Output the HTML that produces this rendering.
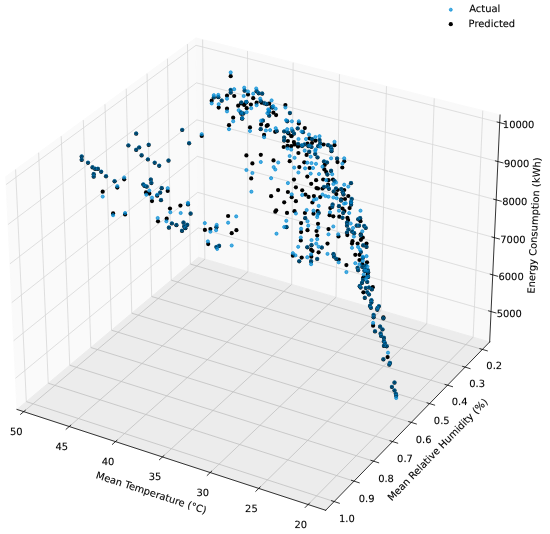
<!DOCTYPE html>
<html><head><meta charset="utf-8"><title>3D scatter</title>
<style>
html,body{margin:0;padding:0;background:#fff;}
#c{position:relative;width:550px;height:534px;overflow:hidden;background:#fff;}
#ax{position:absolute;left:0;top:0;transform-origin:0 0;transform:translate(-115.549px,-90.282px) scale(0.99131);}
#ov{position:absolute;left:0;top:0;}
text{font-family:"DejaVu Sans","Liberation Sans",sans-serif;text-rendering:geometricPrecision;stroke:#000;stroke-opacity:0.35;stroke-width:0.3px;}
</style></head><body>
<div id="c">
<div id="ax"><svg width="720" height="720" viewBox="0 0 720 720" version="1.1">
<defs>
<style type="text/css">*{stroke-linejoin: round; stroke-linecap: butt}</style>
</defs>
<g id="figure_1">
<g id="patch_1">
<path d="M 0 720 
L 720 720 
L 720 0 
L 0 0 
z
" style="fill: #ffffff"/>
</g>
<g id="patch_2">
<path d="M 91.8 640.8 
L 646.2 640.8 
L 646.2 86.4 
L 91.8 86.4 
z
" style="fill: #ffffff"/>
</g>
<g id="pane3d_1">
<g id="patch_3">
<path d="M 316.742009 350.640614 
L 133.661023 504.102727 
L 122.354653 269.318627 
L 314.197008 129.320814 
" style="fill: #fafafa; stroke: #fafafa; stroke-linejoin: miter"/>
</g>
</g>
<g id="pane3d_2">
<g id="patch_4">
<path d="M 610.521668 436.030763 
L 316.742009 350.640614 
L 314.197008 129.320814 
L 621.005628 207.087856 
" style="fill: #f9f9f9; stroke: #f9f9f9; stroke-linejoin: miter"/>
</g>
</g>
<g id="pane3d_3">
<g id="patch_5">
<path d="M 610.521668 436.030763 
L 316.742009 350.640614 
L 133.661023 504.102727 
L 445.08181 605.812756 
" style="fill: #ececec; stroke: #ececec; stroke-linejoin: miter"/>
</g>
</g>
<g id="grid3d_1">
<g id="Line3DCollection_1">
<path d="M 427.349786 600.021476 L 593.863625 431.188928" style="fill: none; stroke: #c0c0c0; stroke-width: 0.8"/>
<path d="M 593.863625 431.188928 L 603.574135 202.669481" style="fill: none; stroke: #d6d6d6; stroke-width: 0.8"/>
<path d="M 377.573838 583.764652 L 547.057778 417.584316" style="fill: none; stroke: #c0c0c0; stroke-width: 0.8"/>
<path d="M 547.057778 417.584316 L 554.617393 190.260374" style="fill: none; stroke: #d6d6d6; stroke-width: 0.8"/>
<path d="M 328.611013 567.773393 L 500.95212 404.183221" style="fill: none; stroke: #c0c0c0; stroke-width: 0.8"/>
<path d="M 500.95212 404.183221 L 506.425222 178.045063" style="fill: none; stroke: #d6d6d6; stroke-width: 0.8"/>
<path d="M 280.441548 552.041246 L 455.531058 390.981112" style="fill: none; stroke: #c0c0c0; stroke-width: 0.8"/>
<path d="M 455.531058 390.981112 L 458.979852 166.019045" style="fill: none; stroke: #d6d6d6; stroke-width: 0.8"/>
<path d="M 233.046314 536.561963 L 410.779456 377.973588" style="fill: none; stroke: #c0c0c0; stroke-width: 0.8"/>
<path d="M 410.779456 377.973588 L 412.264056 154.177952" style="fill: none; stroke: #d6d6d6; stroke-width: 0.8"/>
<path d="M 186.406796 521.329496 L 366.682621 365.156379" style="fill: none; stroke: #c0c0c0; stroke-width: 0.8"/>
<path d="M 366.682621 365.156379 L 366.261135 142.517553" style="fill: none; stroke: #d6d6d6; stroke-width: 0.8"/>
<path d="M 140.50506 506.33799 L 323.226288 352.525338" style="fill: none; stroke: #c0c0c0; stroke-width: 0.8"/>
<path d="M 323.226288 352.525338 L 320.954895 131.033742" style="fill: none; stroke: #d6d6d6; stroke-width: 0.8"/>
</g>
</g>
<g id="grid3d_2">
<g id="Line3DCollection_2">
<path d="M 305.684492 135.532861 L 308.588727 357.474857" style="fill: none; stroke: #d6d6d6; stroke-width: 0.8"/>
<path d="M 308.588727 357.474857 L 603.185029 443.559959" style="fill: none; stroke: #c0c0c0; stroke-width: 0.8"/>
<path d="M 285.490305 150.269659 L 289.257753 373.678463" style="fill: none; stroke: #d6d6d6; stroke-width: 0.8"/>
<path d="M 289.257753 373.678463 L 585.778758 461.423076" style="fill: none; stroke: #c0c0c0; stroke-width: 0.8"/>
<path d="M 264.897958 165.297016 L 269.561566 390.188197" style="fill: none; stroke: #d6d6d6; stroke-width: 0.8"/>
<path d="M 269.561566 390.188197 L 568.026964 479.640783" style="fill: none; stroke: #c0c0c0; stroke-width: 0.8"/>
<path d="M 243.895558 180.62361 L 249.48972 407.012817" style="fill: none; stroke: #d6d6d6; stroke-width: 0.8"/>
<path d="M 249.48972 407.012817 L 549.919256 498.223746" style="fill: none; stroke: #c0c0c0; stroke-width: 0.8"/>
<path d="M 222.470735 196.25847 L 229.031362 424.161418" style="fill: none; stroke: #d6d6d6; stroke-width: 0.8"/>
<path d="M 229.031362 424.161418 L 531.444822 517.18306" style="fill: none; stroke: #c0c0c0; stroke-width: 0.8"/>
<path d="M 200.610615 212.21099 L 208.175221 441.643449" style="fill: none; stroke: #d6d6d6; stroke-width: 0.8"/>
<path d="M 208.175221 441.643449 L 512.592406 536.530276" style="fill: none; stroke: #c0c0c0; stroke-width: 0.8"/>
<path d="M 178.301795 228.490951 L 186.90958 459.468731" style="fill: none; stroke: #d6d6d6; stroke-width: 0.8"/>
<path d="M 186.90958 459.468731 L 493.35029 556.277421" style="fill: none; stroke: #c0c0c0; stroke-width: 0.8"/>
<path d="M 155.530318 245.108538 L 165.22226 477.647472" style="fill: none; stroke: #d6d6d6; stroke-width: 0.8"/>
<path d="M 165.22226 477.647472 L 473.706264 576.437025" style="fill: none; stroke: #c0c0c0; stroke-width: 0.8"/>
<path d="M 132.281639 262.074365 L 143.100594 496.190292" style="fill: none; stroke: #d6d6d6; stroke-width: 0.8"/>
<path d="M 143.100594 496.190292 L 453.647602 597.022146" style="fill: none; stroke: #c0c0c0; stroke-width: 0.8"/>
</g>
</g>
<g id="grid3d_3">
<g id="Line3DCollection_3">
<path d="M 611.92548 405.375083 
L 316.400608 320.95145 
L 132.149299 472.710787 
" style="fill: none; stroke: #d6d6d6; stroke-width: 0.8"/>
<path d="M 613.620544 368.359228 
L 315.988632 285.125013 
L 130.323025 434.787034 
" style="fill: none; stroke: #d6d6d6; stroke-width: 0.8"/>
<path d="M 615.340192 330.806497 
L 315.570969 248.803946 
L 128.469246 396.29211 
" style="fill: none; stroke: #d6d6d6; stroke-width: 0.8"/>
<path d="M 617.084965 292.705126 
L 315.147499 211.977933 
L 126.587335 357.213014 
" style="fill: none; stroke: #d6d6d6; stroke-width: 0.8"/>
<path d="M 618.855416 254.043001 
L 314.718101 174.636371 
L 124.676648 317.536346 
" style="fill: none; stroke: #d6d6d6; stroke-width: 0.8"/>
<path d="M 620.652116 214.807653 
L 314.282649 136.768358 
L 122.736518 277.248294 
" style="fill: none; stroke: #d6d6d6; stroke-width: 0.8"/>
</g>
</g>
<g id="axis3d_1">
<g id="line2d_1">
<path d="M 133.661023 504.102727 
L 445.08181 605.812756 
" style="fill: none; stroke: #000000; stroke-width: 0.8; stroke-linecap: square"/>
</g>
<g id="xtick_1">
<g id="line2d_2">
<path d="M 428.80539 598.545603 
L 424.432034 602.979859 
" style="fill: none; stroke: #000000; stroke-width: 0.8; stroke-linecap: square"/>
</g>
<g id="text_1">
<text style="font-size: 10px; font-family: 'DejaVu Sans', 'Liberation Sans', sans-serif; text-anchor: middle" x="419.989427" y="624.216107" transform="rotate(-0 419.989427 624.216107)">20</text>
</g>
</g>
<g id="xtick_2">
<g id="line2d_3">
<path d="M 379.054371 582.312977 
L 374.60617 586.674474 
" style="fill: none; stroke: #000000; stroke-width: 0.8; stroke-linecap: square"/>
</g>
<g id="text_2">
<text style="font-size: 10px; font-family: 'DejaVu Sans', 'Liberation Sans', sans-serif; text-anchor: middle" x="370.182097" y="607.792276" transform="rotate(-0 370.182097 607.792276)">25</text>
</g>
</g>
<g id="xtick_3">
<g id="line2d_4">
<path d="M 330.11547 566.345327 
L 325.595445 570.635841 
" style="fill: none; stroke: #000000; stroke-width: 0.8; stroke-linecap: square"/>
</g>
<g id="text_3">
<text style="font-size: 10px; font-family: 'DejaVu Sans', 'Liberation Sans', sans-serif; text-anchor: middle" x="321.189896" y="591.637232" transform="rotate(-0 321.189896 591.637232)">30</text>
</g>
</g>
<g id="xtick_4">
<g id="line2d_5">
<path d="M 281.968963 550.636217 
L 277.380016 554.857466 
" style="fill: none; stroke: #000000; stroke-width: 0.8; stroke-linecap: square"/>
</g>
<g id="text_4">
<text style="font-size: 10px; font-family: 'DejaVu Sans', 'Liberation Sans', sans-serif; text-anchor: middle" x="272.992976" y="575.744429" transform="rotate(-0 272.992976 575.744429)">35</text>
</g>
</g>
<g id="xtick_5">
<g id="line2d_6">
<path d="M 234.595759 535.179419 
L 229.940683 539.333067 
" style="fill: none; stroke: #000000; stroke-width: 0.8; stroke-linecap: square"/>
</g>
<g id="text_5">
<text style="font-size: 10px; font-family: 'DejaVu Sans', 'Liberation Sans', sans-serif; text-anchor: middle" x="225.572128" y="560.107534" transform="rotate(-0 225.572128 560.107534)">40</text>
</g>
</g>
<g id="xtick_6">
<g id="line2d_7">
<path d="M 187.977377 519.968901 
L 183.258855 524.05656 
" style="fill: none; stroke: #000000; stroke-width: 0.8; stroke-linecap: square"/>
</g>
<g id="text_6">
<text style="font-size: 10px; font-family: 'DejaVu Sans', 'Liberation Sans', sans-serif; text-anchor: middle" x="178.908758" y="544.720415" transform="rotate(-0 178.908758 544.720415)">45</text>
</g>
</g>
<g id="xtick_7">
<g id="line2d_8">
<path d="M 142.095917 504.998824 
L 137.316534 509.022055 
" style="fill: none; stroke: #000000; stroke-width: 0.8; stroke-linecap: square"/>
</g>
<g id="text_7">
<text style="font-size: 10px; font-family: 'DejaVu Sans', 'Liberation Sans', sans-serif; text-anchor: middle" x="132.98486" y="529.577136" transform="rotate(-0 132.98486 529.577136)">50</text>
</g>
</g>
<g id="text_8">
<text style="font-size: 10px; font-family: 'DejaVu Sans', 'Liberation Sans', sans-serif; text-anchor: middle" x="268.188338" y="591.360438" transform="rotate(-341.912962 268.188338 591.360438)">Mean Temperature (°C)</text>
</g>
</g>
<g id="axis3d_2">
<g id="line2d_9">
<path d="M 610.521668 436.030763 
L 445.08181 605.812756 
" style="fill: none; stroke: #000000; stroke-width: 0.8; stroke-linecap: square"/>
</g>
<g id="xtick_8">
<g id="line2d_10">
<path d="M 600.712073 442.837328 
L 608.136846 445.006949 
" style="fill: none; stroke: #000000; stroke-width: 0.8; stroke-linecap: square"/>
</g>
<g id="text_9">
<text style="font-size: 10px; font-family: 'DejaVu Sans', 'Liberation Sans', sans-serif; text-anchor: middle" x="615.115619" y="463.511131" transform="rotate(-0 615.115619 463.511131)">0.2</text>
</g>
</g>
<g id="xtick_9">
<g id="line2d_11">
<path d="M 583.288497 460.686173 
L 590.765286 462.898657 
" style="fill: none; stroke: #000000; stroke-width: 0.8; stroke-linecap: square"/>
</g>
<g id="text_10">
<text style="font-size: 10px; font-family: 'DejaVu Sans', 'Liberation Sans', sans-serif; text-anchor: middle" x="597.821965" y="481.500465" transform="rotate(-0 597.821965 481.500465)">0.3</text>
</g>
</g>
<g id="xtick_10">
<g id="line2d_12">
<path d="M 565.519194 478.889183 
L 573.048612 481.145813 
" style="fill: none; stroke: #000000; stroke-width: 0.8; stroke-linecap: square"/>
</g>
<g id="text_11">
<text style="font-size: 10px; font-family: 'DejaVu Sans', 'Liberation Sans', sans-serif; text-anchor: middle" x="580.184931" y="499.846992" transform="rotate(-0 580.184931 499.846992)">0.4</text>
</g>
</g>
<g id="xtick_11">
<g id="line2d_13">
<path d="M 547.393772 497.457005 
L 554.976437 499.759115 
" style="fill: none; stroke: #000000; stroke-width: 0.8; stroke-linecap: square"/>
</g>
<g id="text_12">
<text style="font-size: 10px; font-family: 'DejaVu Sans', 'Liberation Sans', sans-serif; text-anchor: middle" x="562.194188" y="518.561459" transform="rotate(-0 562.194188 518.561459)">0.5</text>
</g>
</g>
<g id="xtick_12">
<g id="line2d_14">
<path d="M 528.901417 516.400715 
L 536.537952 518.749695 
" style="fill: none; stroke: #000000; stroke-width: 0.8; stroke-linecap: square"/>
</g>
<g id="text_13">
<text style="font-size: 10px; font-family: 'DejaVu Sans', 'Liberation Sans', sans-serif; text-anchor: middle" x="543.838986" y="537.655044" transform="rotate(-0 543.838986 537.655044)">0.6</text>
</g>
</g>
<g id="xtick_13">
<g id="line2d_15">
<path d="M 510.030872 535.731846 
L 517.721906 538.129141 
" style="fill: none; stroke: #000000; stroke-width: 0.8; stroke-linecap: square"/>
</g>
<g id="text_14">
<text style="font-size: 10px; font-family: 'DejaVu Sans', 'Liberation Sans', sans-serif; text-anchor: middle" x="525.108139" y="557.139387" transform="rotate(-0 525.108139 557.139387)">0.7</text>
</g>
</g>
<g id="xtick_14">
<g id="line2d_16">
<path d="M 490.770417 555.462404 
L 498.516581 557.909521 
" style="fill: none; stroke: #000000; stroke-width: 0.8; stroke-linecap: square"/>
</g>
<g id="text_15">
<text style="font-size: 10px; font-family: 'DejaVu Sans', 'Liberation Sans', sans-serif; text-anchor: middle" x="505.989994" y="577.026607" transform="rotate(-0 505.989994 577.026607)">0.8</text>
</g>
</g>
<g id="xtick_15">
<g id="line2d_17">
<path d="M 471.107839 575.6049 
L 478.909773 578.103407 
" style="fill: none; stroke: #000000; stroke-width: 0.8; stroke-linecap: square"/>
</g>
<g id="text_16">
<text style="font-size: 10px; font-family: 'DejaVu Sans', 'Liberation Sans', sans-serif; text-anchor: middle" x="486.472414" y="597.329331" transform="rotate(-0 486.472414 597.329331)">0.9</text>
</g>
</g>
<g id="xtick_16">
<g id="line2d_18">
<path d="M 451.030414 596.172369 
L 458.888757 598.723903 
" style="fill: none; stroke: #000000; stroke-width: 0.8; stroke-linecap: square"/>
</g>
<g id="text_17">
<text style="font-size: 10px; font-family: 'DejaVu Sans', 'Liberation Sans', sans-serif; text-anchor: middle" x="466.542749" y="618.060716" transform="rotate(-0 466.542749 618.060716)">1.0</text>
</g>
</g>
<g id="text_18">
<text style="font-size: 10px; font-family: 'DejaVu Sans', 'Liberation Sans', sans-serif; text-anchor: middle" x="560.435364" y="547.038643" transform="rotate(-45.742112 560.435364 547.038643)">Mean Relative Humidity (%)</text>
</g>
</g>
<g id="axis3d_3">
<g id="line2d_19">
<path d="M 610.521668 436.030763 
L 621.005628 207.087856 
" style="fill: none; stroke: #000000; stroke-width: 0.8; stroke-linecap: square"/>
</g>
<g id="xtick_17">
<g id="line2d_20">
<path d="M 609.444517 404.666337 
L 616.893344 406.79427 
" style="fill: none; stroke: #000000; stroke-width: 0.8; stroke-linecap: square"/>
</g>
<g id="text_19">
<text style="font-size: 10px; font-family: 'DejaVu Sans', 'Liberation Sans', sans-serif; text-anchor: middle" x="630.310055" y="410.393279" transform="rotate(-0 630.310055 410.393279)">5000</text>
</g>
</g>
<g id="xtick_18">
<g id="line2d_21">
<path d="M 611.121045 367.660231 
L 618.625565 369.758906 
" style="fill: none; stroke: #000000; stroke-width: 0.8; stroke-linecap: square"/>
</g>
<g id="text_20">
<text style="font-size: 10px; font-family: 'DejaVu Sans', 'Liberation Sans', sans-serif; text-anchor: middle" x="632.134814" y="373.412934" transform="rotate(-0 632.134814 373.412934)">6000</text>
</g>
</g>
<g id="xtick_19">
<g id="line2d_22">
<path d="M 612.82188 330.117607 
L 620.382931 332.185949 
" style="fill: none; stroke: #000000; stroke-width: 0.8; stroke-linecap: square"/>
</g>
<g id="text_21">
<text style="font-size: 10px; font-family: 'DejaVu Sans', 'Liberation Sans', sans-serif; text-anchor: middle" x="633.986" y="335.897017" transform="rotate(-0 633.986 335.897017)">7000</text>
</g>
</g>
<g id="xtick_20">
<g id="line2d_23">
<path d="M 614.547553 292.026713 
L 622.165992 294.063609 
" style="fill: none; stroke: #000000; stroke-width: 0.8; stroke-linecap: square"/>
</g>
<g id="text_22">
<text style="font-size: 10px; font-family: 'DejaVu Sans', 'Liberation Sans', sans-serif; text-anchor: middle" x="635.864192" y="297.833809" transform="rotate(-0 635.864192 297.833809)">8000</text>
</g>
</g>
<g id="xtick_21">
<g id="line2d_24">
<path d="M 616.298614 253.375451 
L 623.975317 255.379747 
" style="fill: none; stroke: #000000; stroke-width: 0.8; stroke-linecap: square"/>
</g>
<g id="text_23">
<text style="font-size: 10px; font-family: 'DejaVu Sans', 'Liberation Sans', sans-serif; text-anchor: middle" x="637.769984" y="259.211247" transform="rotate(-0 637.769984 259.211247)">9000</text>
</g>
</g>
<g id="xtick_22">
<g id="line2d_25">
<path d="M 618.075626 214.151363 
L 625.81149 216.121864 
" style="fill: none; stroke: #000000; stroke-width: 0.8; stroke-linecap: square"/>
</g>
<g id="text_24">
<text style="font-size: 10px; font-family: 'DejaVu Sans', 'Liberation Sans', sans-serif; text-anchor: middle" x="639.703991" y="220.016908" transform="rotate(-0 639.703991 220.016908)">10000</text>
</g>
</g>
<g id="text_25">
<text style="font-size: 10px; font-family: 'DejaVu Sans', 'Liberation Sans', sans-serif; text-anchor: middle" x="658.920911" y="318.765321" transform="rotate(-87.378092 658.920911 318.765321)">Energy Consumption (kWh)</text>
</g>
</g>
<g id="axes_1"/>
</g>
</svg>
</div>
<svg id="ov" width="550" height="534" viewBox="0 0 550 534">
<g fill="#000">
<circle cx="81.7" cy="156.5" r="2.1"/>
<circle cx="81.7" cy="159.9" r="2.1"/>
<circle cx="88.0" cy="162.8" r="2.1"/>
<circle cx="92.5" cy="167.4" r="2.1"/>
<circle cx="95.2" cy="168.9" r="2.1"/>
<circle cx="97.9" cy="168.9" r="2.1"/>
<circle cx="101.2" cy="171.8" r="2.1"/>
<circle cx="93.7" cy="174.2" r="2.1"/>
<circle cx="93.7" cy="176.7" r="2.1"/>
<circle cx="106.0" cy="176.3" r="2.1"/>
<circle cx="114.6" cy="181.3" r="2.1"/>
<circle cx="124.2" cy="179.3" r="2.1"/>
<circle cx="117.3" cy="187.6" r="2.1"/>
<circle cx="102.7" cy="191.7" r="2.1"/>
<circle cx="113.1" cy="213.4" r="2.1"/>
<circle cx="125.1" cy="214.5" r="2.1"/>
<circle cx="128.4" cy="145.5" r="2.1"/>
<circle cx="136.2" cy="149.9" r="2.1"/>
<circle cx="139.2" cy="147.5" r="2.1"/>
<circle cx="141.6" cy="155.4" r="2.1"/>
<circle cx="147.9" cy="159.5" r="2.1"/>
<circle cx="148.7" cy="144.9" r="2.1"/>
<circle cx="154.7" cy="162.8" r="2.1"/>
<circle cx="159.2" cy="165.8" r="2.1"/>
<circle cx="168.5" cy="160.7" r="2.1"/>
<circle cx="189.1" cy="143.3" r="2.1"/>
<circle cx="150.8" cy="179.7" r="2.1"/>
<circle cx="151.4" cy="183.1" r="2.1"/>
<circle cx="143.3" cy="184.5" r="2.1"/>
<circle cx="144.5" cy="186.0" r="2.1"/>
<circle cx="146.7" cy="186.7" r="2.1"/>
<circle cx="161.7" cy="188.2" r="2.1"/>
<circle cx="167.7" cy="190.9" r="2.1"/>
<circle cx="146.0" cy="192.4" r="2.1"/>
<circle cx="149.3" cy="193.6" r="2.1"/>
<circle cx="157.2" cy="195.7" r="2.1"/>
<circle cx="160.2" cy="192.7" r="2.1"/>
<circle cx="152.0" cy="201.1" r="2.1"/>
<circle cx="161.0" cy="200.2" r="2.1"/>
<circle cx="170.0" cy="208.6" r="2.1"/>
<circle cx="180.4" cy="205.6" r="2.1"/>
<circle cx="188.0" cy="204.4" r="2.1"/>
<circle cx="190.6" cy="213.7" r="2.1"/>
<circle cx="158.0" cy="221.3" r="2.1"/>
<circle cx="166.7" cy="218.7" r="2.1"/>
<circle cx="171.9" cy="223.5" r="2.1"/>
<circle cx="176.4" cy="225.2" r="2.1"/>
<circle cx="168.9" cy="227.7" r="2.1"/>
<circle cx="183.5" cy="222.7" r="2.1"/>
<circle cx="187.2" cy="224.9" r="2.1"/>
<circle cx="184.2" cy="226.4" r="2.1"/>
<circle cx="185.4" cy="228.2" r="2.1"/>
<circle cx="182.0" cy="230.9" r="2.1"/>
<circle cx="204.9" cy="229.9" r="2.1"/>
<circle cx="210.4" cy="229.1" r="2.1"/>
<circle cx="216.4" cy="227.2" r="2.1"/>
<circle cx="208.2" cy="244.1" r="2.1"/>
<circle cx="216.4" cy="247.1" r="2.1"/>
<circle cx="219.1" cy="245.9" r="2.1"/>
<circle cx="228.1" cy="216.0" r="2.1"/>
<circle cx="231.7" cy="233.2" r="2.1"/>
<circle cx="236.4" cy="230.2" r="2.1"/>
<circle cx="136.2" cy="133.7" r="2.1"/>
<circle cx="182.2" cy="130.0" r="2.1"/>
<circle cx="201.7" cy="136.0" r="2.1"/>
<circle cx="233.2" cy="117.7" r="2.1"/>
<circle cx="229.0" cy="125.2" r="2.1"/>
<circle cx="241.4" cy="102.7" r="2.1"/>
<circle cx="241.4" cy="113.8" r="2.1"/>
<circle cx="242.2" cy="118.7" r="2.1"/>
<circle cx="244.4" cy="104.5" r="2.1"/>
<circle cx="246.2" cy="102.2" r="2.1"/>
<circle cx="250.0" cy="127.4" r="2.1"/>
<circle cx="246.4" cy="155.4" r="2.1"/>
<circle cx="252.4" cy="163.4" r="2.1"/>
<circle cx="251.2" cy="178.4" r="2.1"/>
<circle cx="230.7" cy="76.2" r="2.1"/>
<circle cx="213.8" cy="97.5" r="2.1"/>
<circle cx="211.7" cy="100.7" r="2.1"/>
<circle cx="218.3" cy="97.2" r="2.1"/>
<circle cx="221.7" cy="100.7" r="2.1"/>
<circle cx="218.7" cy="107.6" r="2.1"/>
<circle cx="227.0" cy="95.7" r="2.1"/>
<circle cx="230.7" cy="90.0" r="2.1"/>
<circle cx="230.7" cy="92.7" r="2.1"/>
<circle cx="234.2" cy="96.0" r="2.1"/>
<circle cx="227.0" cy="108.7" r="2.1"/>
<circle cx="244.6" cy="90.7" r="2.1"/>
<circle cx="248.0" cy="94.5" r="2.1"/>
<circle cx="256.6" cy="91.2" r="2.1"/>
<circle cx="258.7" cy="93.3" r="2.1"/>
<circle cx="262.2" cy="93.7" r="2.1"/>
<circle cx="253.2" cy="98.2" r="2.1"/>
<circle cx="246.4" cy="102.2" r="2.1"/>
<circle cx="241.2" cy="103.4" r="2.1"/>
<circle cx="244.2" cy="104.9" r="2.1"/>
<circle cx="238.2" cy="105.7" r="2.1"/>
<circle cx="250.9" cy="104.6" r="2.1"/>
<circle cx="246.7" cy="108.2" r="2.1"/>
<circle cx="240.7" cy="112.4" r="2.1"/>
<circle cx="243.4" cy="113.6" r="2.1"/>
<circle cx="242.2" cy="118.4" r="2.1"/>
<circle cx="256.6" cy="102.7" r="2.1"/>
<circle cx="260.7" cy="101.2" r="2.1"/>
<circle cx="261.7" cy="102.7" r="2.1"/>
<circle cx="264.4" cy="103.4" r="2.1"/>
<circle cx="266.7" cy="104.2" r="2.1"/>
<circle cx="269.2" cy="103.7" r="2.1"/>
<circle cx="268.9" cy="111.7" r="2.1"/>
<circle cx="269.2" cy="115.7" r="2.1"/>
<circle cx="272.4" cy="107.6" r="2.1"/>
<circle cx="273.4" cy="112.7" r="2.1"/>
<circle cx="276.1" cy="115.1" r="2.1"/>
<circle cx="261.1" cy="124.4" r="2.1"/>
<circle cx="262.9" cy="120.7" r="2.1"/>
<circle cx="260.7" cy="129.2" r="2.1"/>
<circle cx="266.7" cy="125.9" r="2.1"/>
<circle cx="267.7" cy="125.2" r="2.1"/>
<circle cx="264.1" cy="134.9" r="2.1"/>
<circle cx="276.7" cy="131.2" r="2.1"/>
<circle cx="285.4" cy="105.1" r="2.1"/>
<circle cx="289.9" cy="113.1" r="2.1"/>
<circle cx="287.2" cy="121.3" r="2.1"/>
<circle cx="298.8" cy="123.4" r="2.1"/>
<circle cx="275.2" cy="131.8" r="2.1"/>
<circle cx="284.2" cy="131.5" r="2.1"/>
<circle cx="288.4" cy="133.3" r="2.1"/>
<circle cx="292.5" cy="131.1" r="2.1"/>
<circle cx="294.0" cy="133.7" r="2.1"/>
<circle cx="291.7" cy="136.0" r="2.1"/>
<circle cx="297.7" cy="128.5" r="2.1"/>
<circle cx="303.0" cy="132.2" r="2.1"/>
<circle cx="304.8" cy="128.1" r="2.1"/>
<circle cx="284.2" cy="137.5" r="2.1"/>
<circle cx="309.4" cy="138.3" r="2.1"/>
<circle cx="312.0" cy="139.2" r="2.1"/>
<circle cx="315.4" cy="140.7" r="2.1"/>
<circle cx="319.5" cy="140.0" r="2.1"/>
<circle cx="320.2" cy="143.3" r="2.1"/>
<circle cx="323.6" cy="144.5" r="2.1"/>
<circle cx="328.1" cy="145.2" r="2.1"/>
<circle cx="330.7" cy="146.7" r="2.1"/>
<circle cx="334.5" cy="145.2" r="2.1"/>
<circle cx="304.5" cy="144.5" r="2.1"/>
<circle cx="302.2" cy="146.0" r="2.1"/>
<circle cx="309.7" cy="146.0" r="2.1"/>
<circle cx="307.5" cy="143.7" r="2.1"/>
<circle cx="312.0" cy="143.0" r="2.1"/>
<circle cx="331.5" cy="149.0" r="2.1"/>
<circle cx="331.5" cy="151.2" r="2.1"/>
<circle cx="337.1" cy="158.7" r="2.1"/>
<circle cx="337.5" cy="162.1" r="2.1"/>
<circle cx="344.2" cy="161.3" r="2.1"/>
<circle cx="291.2" cy="136.1" r="2.1"/>
<circle cx="284.1" cy="140.6" r="2.1"/>
<circle cx="287.9" cy="141.0" r="2.1"/>
<circle cx="293.9" cy="142.1" r="2.1"/>
<circle cx="283.7" cy="147.0" r="2.1"/>
<circle cx="287.5" cy="145.9" r="2.1"/>
<circle cx="291.2" cy="146.2" r="2.1"/>
<circle cx="294.6" cy="144.4" r="2.1"/>
<circle cx="298.0" cy="144.0" r="2.1"/>
<circle cx="298.0" cy="146.6" r="2.1"/>
<circle cx="301.7" cy="145.5" r="2.1"/>
<circle cx="308.5" cy="146.2" r="2.1"/>
<circle cx="311.5" cy="147.0" r="2.1"/>
<circle cx="318.2" cy="146.2" r="2.1"/>
<circle cx="298.4" cy="153.0" r="2.1"/>
<circle cx="309.2" cy="151.9" r="2.1"/>
<circle cx="306.6" cy="154.9" r="2.1"/>
<circle cx="315.2" cy="154.1" r="2.1"/>
<circle cx="317.5" cy="157.5" r="2.1"/>
<circle cx="289.7" cy="161.2" r="2.1"/>
<circle cx="304.3" cy="162.3" r="2.1"/>
<circle cx="299.3" cy="167.1" r="2.1"/>
<circle cx="309.6" cy="168.0" r="2.1"/>
<circle cx="324.0" cy="161.5" r="2.1"/>
<circle cx="327.0" cy="162.6" r="2.1"/>
<circle cx="324.7" cy="164.9" r="2.1"/>
<circle cx="342.3" cy="167.5" r="2.1"/>
<circle cx="324.4" cy="169.4" r="2.1"/>
<circle cx="326.2" cy="172.0" r="2.1"/>
<circle cx="331.1" cy="170.9" r="2.1"/>
<circle cx="327.4" cy="174.6" r="2.1"/>
<circle cx="316.1" cy="180.2" r="2.1"/>
<circle cx="323.2" cy="179.5" r="2.1"/>
<circle cx="328.5" cy="180.2" r="2.1"/>
<circle cx="333.0" cy="179.5" r="2.1"/>
<circle cx="334.5" cy="181.0" r="2.1"/>
<circle cx="328.1" cy="184.7" r="2.1"/>
<circle cx="324.0" cy="187.0" r="2.1"/>
<circle cx="327.4" cy="186.6" r="2.1"/>
<circle cx="328.9" cy="188.8" r="2.1"/>
<circle cx="316.5" cy="188.1" r="2.1"/>
<circle cx="322.5" cy="188.5" r="2.1"/>
<circle cx="351.0" cy="183.2" r="2.1"/>
<circle cx="336.0" cy="188.5" r="2.1"/>
<circle cx="337.5" cy="190.0" r="2.1"/>
<circle cx="341.2" cy="189.2" r="2.1"/>
<circle cx="344.2" cy="190.0" r="2.1"/>
<circle cx="333.7" cy="191.5" r="2.1"/>
<circle cx="336.3" cy="194.1" r="2.1"/>
<circle cx="342.7" cy="192.2" r="2.1"/>
<circle cx="343.5" cy="194.5" r="2.1"/>
<circle cx="348.3" cy="196.0" r="2.1"/>
<circle cx="320.2" cy="197.1" r="2.1"/>
<circle cx="341.2" cy="199.3" r="2.1"/>
<circle cx="345.0" cy="199.0" r="2.1"/>
<circle cx="351.7" cy="199.0" r="2.1"/>
<circle cx="308.6" cy="196.9" r="2.1"/>
<circle cx="313.9" cy="196.1" r="2.1"/>
<circle cx="312.4" cy="202.5" r="2.1"/>
<circle cx="332.6" cy="204.7" r="2.1"/>
<circle cx="332.2" cy="207.0" r="2.1"/>
<circle cx="330.3" cy="208.1" r="2.1"/>
<circle cx="339.0" cy="206.2" r="2.1"/>
<circle cx="304.9" cy="213.0" r="2.1"/>
<circle cx="313.5" cy="213.7" r="2.1"/>
<circle cx="317.6" cy="211.1" r="2.1"/>
<circle cx="318.7" cy="213.0" r="2.1"/>
<circle cx="329.6" cy="215.2" r="2.1"/>
<circle cx="333.3" cy="216.3" r="2.1"/>
<circle cx="339.3" cy="216.7" r="2.1"/>
<circle cx="305.2" cy="218.2" r="2.1"/>
<circle cx="301.1" cy="223.1" r="2.1"/>
<circle cx="318.0" cy="223.8" r="2.1"/>
<circle cx="328.5" cy="229.1" r="2.1"/>
<circle cx="301.1" cy="232.1" r="2.1"/>
<circle cx="307.5" cy="230.2" r="2.1"/>
<circle cx="316.5" cy="231.0" r="2.1"/>
<circle cx="341.0" cy="200.6" r="2.1"/>
<circle cx="351.1" cy="202.5" r="2.1"/>
<circle cx="351.1" cy="204.7" r="2.1"/>
<circle cx="349.6" cy="208.1" r="2.1"/>
<circle cx="342.5" cy="208.5" r="2.1"/>
<circle cx="344.4" cy="211.1" r="2.1"/>
<circle cx="343.2" cy="213.0" r="2.1"/>
<circle cx="342.5" cy="217.8" r="2.1"/>
<circle cx="347.4" cy="217.8" r="2.1"/>
<circle cx="348.1" cy="220.1" r="2.1"/>
<circle cx="358.2" cy="219.3" r="2.1"/>
<circle cx="360.1" cy="218.2" r="2.1"/>
<circle cx="360.5" cy="221.2" r="2.1"/>
<circle cx="347.0" cy="222.7" r="2.1"/>
<circle cx="347.0" cy="225.7" r="2.1"/>
<circle cx="356.7" cy="225.7" r="2.1"/>
<circle cx="359.0" cy="225.7" r="2.1"/>
<circle cx="364.2" cy="226.1" r="2.1"/>
<circle cx="365.7" cy="228.0" r="2.1"/>
<circle cx="348.5" cy="229.5" r="2.1"/>
<circle cx="347.0" cy="232.5" r="2.1"/>
<circle cx="352.2" cy="231.7" r="2.1"/>
<circle cx="354.1" cy="233.2" r="2.1"/>
<circle cx="360.8" cy="234.3" r="2.1"/>
<circle cx="351.0" cy="202.0" r="2.1"/>
<circle cx="294.0" cy="179.6" r="2.1"/>
<circle cx="295.9" cy="187.3" r="2.1"/>
<circle cx="278.1" cy="190.1" r="2.1"/>
<circle cx="287.9" cy="192.0" r="2.1"/>
<circle cx="291.7" cy="197.2" r="2.1"/>
<circle cx="271.1" cy="196.2" r="2.1"/>
<circle cx="284.2" cy="202.3" r="2.1"/>
<circle cx="295.9" cy="201.2" r="2.1"/>
<circle cx="276.2" cy="210.3" r="2.1"/>
<circle cx="275.3" cy="211.7" r="2.1"/>
<circle cx="287.0" cy="212.9" r="2.1"/>
<circle cx="294.5" cy="211.2" r="2.1"/>
<circle cx="286.5" cy="227.2" r="2.1"/>
<circle cx="292.9" cy="255.7" r="2.1"/>
<circle cx="299.2" cy="261.3" r="2.1"/>
<circle cx="338.5" cy="236.5" r="2.1"/>
<circle cx="317.2" cy="235.6" r="2.1"/>
<circle cx="300.8" cy="240.5" r="2.1"/>
<circle cx="327.5" cy="243.6" r="2.1"/>
<circle cx="311.5" cy="245.2" r="2.1"/>
<circle cx="307.3" cy="247.3" r="2.1"/>
<circle cx="321.8" cy="247.6" r="2.1"/>
<circle cx="311.1" cy="249.7" r="2.1"/>
<circle cx="312.5" cy="251.1" r="2.1"/>
<circle cx="318.6" cy="252.3" r="2.1"/>
<circle cx="333.5" cy="254.2" r="2.1"/>
<circle cx="334.0" cy="256.7" r="2.1"/>
<circle cx="336.3" cy="259.0" r="2.1"/>
<circle cx="338.7" cy="259.5" r="2.1"/>
<circle cx="311.3" cy="256.7" r="2.1"/>
<circle cx="301.7" cy="257.6" r="2.1"/>
<circle cx="317.2" cy="259.0" r="2.1"/>
<circle cx="311.1" cy="261.4" r="2.1"/>
<circle cx="347.3" cy="235.1" r="2.1"/>
<circle cx="360.9" cy="235.6" r="2.1"/>
<circle cx="362.8" cy="237.5" r="2.1"/>
<circle cx="360.9" cy="239.8" r="2.1"/>
<circle cx="352.5" cy="241.2" r="2.1"/>
<circle cx="352.0" cy="243.6" r="2.1"/>
<circle cx="357.6" cy="243.6" r="2.1"/>
<circle cx="366.5" cy="243.6" r="2.1"/>
<circle cx="363.2" cy="245.4" r="2.1"/>
<circle cx="366.5" cy="246.9" r="2.1"/>
<circle cx="360.9" cy="252.0" r="2.1"/>
<circle cx="355.3" cy="254.8" r="2.1"/>
<circle cx="359.5" cy="254.8" r="2.1"/>
<circle cx="362.8" cy="258.1" r="2.1"/>
<circle cx="359.5" cy="260.0" r="2.1"/>
<circle cx="362.3" cy="264.2" r="2.1"/>
<circle cx="367.0" cy="262.3" r="2.1"/>
<circle cx="365.6" cy="265.6" r="2.1"/>
<circle cx="362.3" cy="267.0" r="2.1"/>
<circle cx="357.6" cy="267.9" r="2.1"/>
<circle cx="358.1" cy="270.3" r="2.1"/>
<circle cx="365.1" cy="269.3" r="2.1"/>
<circle cx="365.6" cy="271.2" r="2.1"/>
<circle cx="367.9" cy="270.3" r="2.1"/>
<circle cx="367.9" cy="272.6" r="2.1"/>
<circle cx="363.2" cy="277.8" r="2.1"/>
<circle cx="367.9" cy="276.8" r="2.1"/>
<circle cx="346.4" cy="265.1" r="2.1"/>
<circle cx="364.4" cy="270.8" r="2.1"/>
<circle cx="368.1" cy="272.2" r="2.1"/>
<circle cx="367.6" cy="275.0" r="2.1"/>
<circle cx="363.9" cy="277.3" r="2.1"/>
<circle cx="368.1" cy="276.9" r="2.1"/>
<circle cx="363.0" cy="280.1" r="2.1"/>
<circle cx="367.2" cy="282.0" r="2.1"/>
<circle cx="362.0" cy="282.9" r="2.1"/>
<circle cx="359.7" cy="286.2" r="2.1"/>
<circle cx="360.6" cy="287.6" r="2.1"/>
<circle cx="365.8" cy="288.1" r="2.1"/>
<circle cx="369.0" cy="287.6" r="2.1"/>
<circle cx="372.8" cy="287.2" r="2.1"/>
<circle cx="371.9" cy="289.5" r="2.1"/>
<circle cx="363.4" cy="292.3" r="2.1"/>
<circle cx="367.2" cy="292.3" r="2.1"/>
<circle cx="369.0" cy="294.6" r="2.1"/>
<circle cx="364.8" cy="297.9" r="2.1"/>
<circle cx="371.4" cy="300.3" r="2.1"/>
<circle cx="371.4" cy="302.6" r="2.1"/>
<circle cx="370.0" cy="305.9" r="2.1"/>
<circle cx="370.9" cy="307.8" r="2.1"/>
<circle cx="378.9" cy="306.3" r="2.1"/>
<circle cx="377.5" cy="308.2" r="2.1"/>
<circle cx="377.3" cy="309.8" r="2.1"/>
<circle cx="373.6" cy="315.0" r="2.1"/>
<circle cx="373.6" cy="317.3" r="2.1"/>
<circle cx="383.4" cy="317.3" r="2.1"/>
<circle cx="383.4" cy="318.5" r="2.1"/>
<circle cx="373.1" cy="325.7" r="2.1"/>
<circle cx="380.1" cy="326.7" r="2.1"/>
<circle cx="382.5" cy="329.5" r="2.1"/>
<circle cx="375.0" cy="331.4" r="2.1"/>
<circle cx="380.6" cy="333.7" r="2.1"/>
<circle cx="381.1" cy="336.0" r="2.1"/>
<circle cx="383.9" cy="337.9" r="2.1"/>
<circle cx="383.9" cy="341.2" r="2.1"/>
<circle cx="384.8" cy="343.1" r="2.1"/>
<circle cx="383.9" cy="345.9" r="2.1"/>
<circle cx="386.7" cy="346.3" r="2.1"/>
<circle cx="387.6" cy="357.1" r="2.1"/>
<circle cx="383.4" cy="359.4" r="2.1"/>
<circle cx="390.0" cy="363.0" r="2.1"/>
<circle cx="389.3" cy="364.7" r="2.1"/>
<circle cx="394.5" cy="382.7" r="2.1"/>
<circle cx="391.9" cy="387.0" r="2.1"/>
<circle cx="394.5" cy="390.5" r="2.1"/>
<circle cx="395.8" cy="393.8" r="2.1"/>
<circle cx="396.2" cy="395.8" r="2.1"/>
<circle cx="260.8" cy="154.8" r="2.1"/>
<circle cx="273.5" cy="160.4" r="2.1"/>
<circle cx="287.8" cy="132.5" r="2.1"/>
<circle cx="271.7" cy="107.2" r="2.1"/>
<circle cx="307.3" cy="176.6" r="2.1"/>
<circle cx="311.2" cy="183.8" r="2.1"/>
<circle cx="302.2" cy="190.3" r="2.1"/>
<circle cx="305.4" cy="194.6" r="2.1"/>
<circle cx="318.0" cy="188.5" r="2.1"/>
</g>
<g fill="#008bd6" stroke="#008bd6" stroke-width="1.0">
<circle cx="81.7" cy="156.1" r="1.58" fill-opacity="0.45" stroke-opacity="0.45"/>
<circle cx="81.7" cy="159.5" r="1.58" fill-opacity="0.45" stroke-opacity="0.45"/>
<circle cx="88.0" cy="162.4" r="1.58" fill-opacity="0.45" stroke-opacity="0.45"/>
<circle cx="92.5" cy="167.0" r="1.58" fill-opacity="0.45" stroke-opacity="0.45"/>
<circle cx="95.2" cy="168.5" r="1.58" fill-opacity="0.45" stroke-opacity="0.45"/>
<circle cx="97.9" cy="168.5" r="1.58" fill-opacity="0.45" stroke-opacity="0.45"/>
<circle cx="101.2" cy="171.4" r="1.58" fill-opacity="0.45" stroke-opacity="0.45"/>
<circle cx="93.7" cy="173.8" r="1.58" fill-opacity="0.45" stroke-opacity="0.45"/>
<circle cx="93.7" cy="176.3" r="1.58" fill-opacity="0.45" stroke-opacity="0.45"/>
<circle cx="106.0" cy="175.9" r="1.58" fill-opacity="0.45" stroke-opacity="0.45"/>
<circle cx="114.6" cy="180.9" r="1.58" fill-opacity="0.45" stroke-opacity="0.45"/>
<circle cx="124.2" cy="177.5" r="1.58" fill-opacity="0.7" stroke-opacity="0.7"/>
<circle cx="117.3" cy="186.1" r="1.58" fill-opacity="0.7" stroke-opacity="0.7"/>
<circle cx="102.7" cy="196.6" r="1.58" fill-opacity="0.7" stroke-opacity="0.7"/>
<circle cx="113.1" cy="215.2" r="1.58" fill-opacity="0.7" stroke-opacity="0.7"/>
<circle cx="125.1" cy="213.0" r="1.58" fill-opacity="0.7" stroke-opacity="0.7"/>
<circle cx="128.4" cy="145.1" r="1.58" fill-opacity="0.45" stroke-opacity="0.45"/>
<circle cx="136.2" cy="149.5" r="1.58" fill-opacity="0.45" stroke-opacity="0.45"/>
<circle cx="139.2" cy="147.1" r="1.58" fill-opacity="0.45" stroke-opacity="0.45"/>
<circle cx="141.6" cy="155.0" r="1.58" fill-opacity="0.45" stroke-opacity="0.45"/>
<circle cx="147.9" cy="159.1" r="1.58" fill-opacity="0.45" stroke-opacity="0.45"/>
<circle cx="148.7" cy="144.5" r="1.58" fill-opacity="0.45" stroke-opacity="0.45"/>
<circle cx="154.7" cy="162.4" r="1.58" fill-opacity="0.45" stroke-opacity="0.45"/>
<circle cx="159.2" cy="165.4" r="1.58" fill-opacity="0.45" stroke-opacity="0.45"/>
<circle cx="168.5" cy="160.3" r="1.58" fill-opacity="0.45" stroke-opacity="0.45"/>
<circle cx="189.1" cy="142.9" r="1.58" fill-opacity="0.45" stroke-opacity="0.45"/>
<circle cx="150.8" cy="179.3" r="1.58" fill-opacity="0.45" stroke-opacity="0.45"/>
<circle cx="151.4" cy="182.7" r="1.58" fill-opacity="0.45" stroke-opacity="0.45"/>
<circle cx="143.3" cy="184.1" r="1.58" fill-opacity="0.45" stroke-opacity="0.45"/>
<circle cx="144.5" cy="185.6" r="1.58" fill-opacity="0.45" stroke-opacity="0.45"/>
<circle cx="146.7" cy="186.3" r="1.58" fill-opacity="0.45" stroke-opacity="0.45"/>
<circle cx="161.7" cy="187.8" r="1.58" fill-opacity="0.45" stroke-opacity="0.45"/>
<circle cx="167.7" cy="188.2" r="1.58" fill-opacity="0.7" stroke-opacity="0.7"/>
<circle cx="149.3" cy="190.6" r="1.58" fill-opacity="0.7" stroke-opacity="0.7"/>
<circle cx="146.3" cy="194.7" r="1.58" fill-opacity="0.7" stroke-opacity="0.7"/>
<circle cx="157.2" cy="194.7" r="1.58" fill-opacity="0.7" stroke-opacity="0.7"/>
<circle cx="160.2" cy="192.3" r="1.58" fill-opacity="0.45" stroke-opacity="0.45"/>
<circle cx="152.0" cy="197.7" r="1.58" fill-opacity="0.7" stroke-opacity="0.7"/>
<circle cx="161.0" cy="199.8" r="1.58" fill-opacity="0.45" stroke-opacity="0.45"/>
<circle cx="170.3" cy="212.2" r="1.58" fill-opacity="0.7" stroke-opacity="0.7"/>
<circle cx="180.7" cy="213.0" r="1.58" fill-opacity="0.7" stroke-opacity="0.7"/>
<circle cx="188.0" cy="202.9" r="1.58" fill-opacity="0.7" stroke-opacity="0.7"/>
<circle cx="188.0" cy="204.0" r="1.58" fill-opacity="0.45" stroke-opacity="0.45"/>
<circle cx="190.6" cy="213.3" r="1.58" fill-opacity="0.45" stroke-opacity="0.45"/>
<circle cx="157.7" cy="218.0" r="1.58" fill-opacity="0.7" stroke-opacity="0.7"/>
<circle cx="166.4" cy="221.3" r="1.58" fill-opacity="0.7" stroke-opacity="0.7"/>
<circle cx="171.9" cy="223.1" r="1.58" fill-opacity="0.45" stroke-opacity="0.45"/>
<circle cx="176.4" cy="224.8" r="1.58" fill-opacity="0.45" stroke-opacity="0.45"/>
<circle cx="168.9" cy="227.3" r="1.58" fill-opacity="0.45" stroke-opacity="0.45"/>
<circle cx="183.5" cy="222.3" r="1.58" fill-opacity="0.45" stroke-opacity="0.45"/>
<circle cx="187.2" cy="224.5" r="1.58" fill-opacity="0.45" stroke-opacity="0.45"/>
<circle cx="184.2" cy="226.0" r="1.58" fill-opacity="0.45" stroke-opacity="0.45"/>
<circle cx="185.4" cy="227.8" r="1.58" fill-opacity="0.45" stroke-opacity="0.45"/>
<circle cx="182.0" cy="230.5" r="1.58" fill-opacity="0.45" stroke-opacity="0.45"/>
<circle cx="204.8" cy="223.1" r="1.58" fill-opacity="0.7" stroke-opacity="0.7"/>
<circle cx="210.4" cy="231.7" r="1.58" fill-opacity="0.7" stroke-opacity="0.7"/>
<circle cx="216.7" cy="224.9" r="1.58" fill-opacity="0.7" stroke-opacity="0.7"/>
<circle cx="216.4" cy="226.8" r="1.58" fill-opacity="0.45" stroke-opacity="0.45"/>
<circle cx="216.1" cy="230.2" r="1.58" fill-opacity="0.7" stroke-opacity="0.7"/>
<circle cx="207.9" cy="241.4" r="1.58" fill-opacity="0.7" stroke-opacity="0.7"/>
<circle cx="216.4" cy="246.7" r="1.58" fill-opacity="0.45" stroke-opacity="0.45"/>
<circle cx="219.1" cy="245.5" r="1.58" fill-opacity="0.45" stroke-opacity="0.45"/>
<circle cx="217.2" cy="248.9" r="1.58" fill-opacity="0.7" stroke-opacity="0.7"/>
<circle cx="236.2" cy="216.4" r="1.58" fill-opacity="0.7" stroke-opacity="0.7"/>
<circle cx="228.1" cy="222.7" r="1.58" fill-opacity="0.7" stroke-opacity="0.7"/>
<circle cx="231.7" cy="245.5" r="1.58" fill-opacity="0.7" stroke-opacity="0.7"/>
<circle cx="136.2" cy="133.3" r="1.58" fill-opacity="0.45" stroke-opacity="0.45"/>
<circle cx="182.2" cy="129.6" r="1.58" fill-opacity="0.45" stroke-opacity="0.45"/>
<circle cx="201.7" cy="134.2" r="1.58" fill-opacity="0.7" stroke-opacity="0.7"/>
<circle cx="233.2" cy="121.3" r="1.58" fill-opacity="0.7" stroke-opacity="0.7"/>
<circle cx="229.0" cy="129.2" r="1.58" fill-opacity="0.7" stroke-opacity="0.7"/>
<circle cx="241.4" cy="102.3" r="1.58" fill-opacity="0.45" stroke-opacity="0.45"/>
<circle cx="241.4" cy="113.4" r="1.58" fill-opacity="0.45" stroke-opacity="0.45"/>
<circle cx="242.2" cy="118.3" r="1.58" fill-opacity="0.45" stroke-opacity="0.45"/>
<circle cx="246.2" cy="101.8" r="1.58" fill-opacity="0.45" stroke-opacity="0.45"/>
<circle cx="250.0" cy="131.0" r="1.58" fill-opacity="0.7" stroke-opacity="0.7"/>
<circle cx="246.4" cy="170.0" r="1.58" fill-opacity="0.7" stroke-opacity="0.7"/>
<circle cx="252.4" cy="173.0" r="1.58" fill-opacity="0.7" stroke-opacity="0.7"/>
<circle cx="230.7" cy="72.4" r="1.58" fill-opacity="0.7" stroke-opacity="0.7"/>
<circle cx="213.8" cy="95.2" r="1.58" fill-opacity="0.7" stroke-opacity="0.7"/>
<circle cx="213.8" cy="97.1" r="1.58" fill-opacity="0.45" stroke-opacity="0.45"/>
<circle cx="211.7" cy="103.4" r="1.58" fill-opacity="0.7" stroke-opacity="0.7"/>
<circle cx="218.3" cy="94.9" r="1.58" fill-opacity="0.7" stroke-opacity="0.7"/>
<circle cx="218.3" cy="96.8" r="1.58" fill-opacity="0.45" stroke-opacity="0.45"/>
<circle cx="221.7" cy="100.3" r="1.58" fill-opacity="0.45" stroke-opacity="0.45"/>
<circle cx="218.7" cy="104.2" r="1.58" fill-opacity="0.7" stroke-opacity="0.7"/>
<circle cx="227.0" cy="98.7" r="1.58" fill-opacity="0.7" stroke-opacity="0.7"/>
<circle cx="230.7" cy="89.6" r="1.58" fill-opacity="0.45" stroke-opacity="0.45"/>
<circle cx="230.7" cy="92.3" r="1.58" fill-opacity="0.45" stroke-opacity="0.45"/>
<circle cx="234.2" cy="89.2" r="1.58" fill-opacity="0.7" stroke-opacity="0.7"/>
<circle cx="227.0" cy="111.4" r="1.58" fill-opacity="0.7" stroke-opacity="0.7"/>
<circle cx="244.2" cy="87.7" r="1.58" fill-opacity="0.7" stroke-opacity="0.7"/>
<circle cx="244.6" cy="90.3" r="1.58" fill-opacity="0.45" stroke-opacity="0.45"/>
<circle cx="248.0" cy="91.5" r="1.58" fill-opacity="0.7" stroke-opacity="0.7"/>
<circle cx="243.7" cy="96.0" r="1.58" fill-opacity="0.7" stroke-opacity="0.7"/>
<circle cx="253.2" cy="93.7" r="1.58" fill-opacity="0.7" stroke-opacity="0.7"/>
<circle cx="256.2" cy="88.5" r="1.58" fill-opacity="0.7" stroke-opacity="0.7"/>
<circle cx="256.6" cy="90.8" r="1.58" fill-opacity="0.45" stroke-opacity="0.45"/>
<circle cx="258.7" cy="92.9" r="1.58" fill-opacity="0.45" stroke-opacity="0.45"/>
<circle cx="262.2" cy="93.3" r="1.58" fill-opacity="0.45" stroke-opacity="0.45"/>
<circle cx="246.4" cy="101.8" r="1.58" fill-opacity="0.45" stroke-opacity="0.45"/>
<circle cx="251.2" cy="108.2" r="1.58" fill-opacity="0.7" stroke-opacity="0.7"/>
<circle cx="238.7" cy="110.2" r="1.58" fill-opacity="0.7" stroke-opacity="0.7"/>
<circle cx="240.7" cy="112.0" r="1.58" fill-opacity="0.45" stroke-opacity="0.45"/>
<circle cx="243.4" cy="113.2" r="1.58" fill-opacity="0.45" stroke-opacity="0.45"/>
<circle cx="246.7" cy="112.1" r="1.58" fill-opacity="0.7" stroke-opacity="0.7"/>
<circle cx="242.2" cy="118.0" r="1.58" fill-opacity="0.45" stroke-opacity="0.45"/>
<circle cx="256.6" cy="105.2" r="1.58" fill-opacity="0.7" stroke-opacity="0.7"/>
<circle cx="260.2" cy="98.7" r="1.58" fill-opacity="0.7" stroke-opacity="0.7"/>
<circle cx="260.7" cy="100.8" r="1.58" fill-opacity="0.45" stroke-opacity="0.45"/>
<circle cx="264.4" cy="103.0" r="1.58" fill-opacity="0.45" stroke-opacity="0.45"/>
<circle cx="266.7" cy="103.8" r="1.58" fill-opacity="0.45" stroke-opacity="0.45"/>
<circle cx="271.6" cy="100.4" r="1.58" fill-opacity="0.7" stroke-opacity="0.7"/>
<circle cx="268.2" cy="109.4" r="1.58" fill-opacity="0.7" stroke-opacity="0.7"/>
<circle cx="268.9" cy="111.3" r="1.58" fill-opacity="0.45" stroke-opacity="0.45"/>
<circle cx="267.4" cy="113.2" r="1.58" fill-opacity="0.7" stroke-opacity="0.7"/>
<circle cx="269.2" cy="115.3" r="1.58" fill-opacity="0.45" stroke-opacity="0.45"/>
<circle cx="272.4" cy="107.2" r="1.58" fill-opacity="0.45" stroke-opacity="0.45"/>
<circle cx="275.7" cy="108.7" r="1.58" fill-opacity="0.7" stroke-opacity="0.7"/>
<circle cx="261.1" cy="120.7" r="1.58" fill-opacity="0.7" stroke-opacity="0.7"/>
<circle cx="262.9" cy="120.3" r="1.58" fill-opacity="0.45" stroke-opacity="0.45"/>
<circle cx="260.7" cy="128.8" r="1.58" fill-opacity="0.45" stroke-opacity="0.45"/>
<circle cx="265.9" cy="130.4" r="1.58" fill-opacity="0.7" stroke-opacity="0.7"/>
<circle cx="270.1" cy="130.1" r="1.58" fill-opacity="0.7" stroke-opacity="0.7"/>
<circle cx="264.1" cy="137.2" r="1.58" fill-opacity="0.7" stroke-opacity="0.7"/>
<circle cx="275.7" cy="128.2" r="1.58" fill-opacity="0.7" stroke-opacity="0.7"/>
<circle cx="276.7" cy="130.8" r="1.58" fill-opacity="0.45" stroke-opacity="0.45"/>
<circle cx="285.4" cy="107.5" r="1.58" fill-opacity="0.7" stroke-opacity="0.7"/>
<circle cx="289.9" cy="112.7" r="1.58" fill-opacity="0.45" stroke-opacity="0.45"/>
<circle cx="287.2" cy="120.9" r="1.58" fill-opacity="0.45" stroke-opacity="0.45"/>
<circle cx="286.1" cy="120.2" r="1.58" fill-opacity="0.7" stroke-opacity="0.7"/>
<circle cx="291.9" cy="121.3" r="1.58" fill-opacity="0.7" stroke-opacity="0.7"/>
<circle cx="298.8" cy="121.3" r="1.58" fill-opacity="0.7" stroke-opacity="0.7"/>
<circle cx="284.2" cy="131.1" r="1.58" fill-opacity="0.45" stroke-opacity="0.45"/>
<circle cx="287.2" cy="129.2" r="1.58" fill-opacity="0.7" stroke-opacity="0.7"/>
<circle cx="291.7" cy="128.8" r="1.58" fill-opacity="0.7" stroke-opacity="0.7"/>
<circle cx="292.5" cy="130.7" r="1.58" fill-opacity="0.45" stroke-opacity="0.45"/>
<circle cx="294.0" cy="133.3" r="1.58" fill-opacity="0.45" stroke-opacity="0.45"/>
<circle cx="297.7" cy="128.1" r="1.58" fill-opacity="0.45" stroke-opacity="0.45"/>
<circle cx="301.5" cy="131.5" r="1.58" fill-opacity="0.7" stroke-opacity="0.7"/>
<circle cx="303.0" cy="131.8" r="1.58" fill-opacity="0.45" stroke-opacity="0.45"/>
<circle cx="284.2" cy="137.1" r="1.58" fill-opacity="0.45" stroke-opacity="0.45"/>
<circle cx="298.5" cy="139.0" r="1.58" fill-opacity="0.7" stroke-opacity="0.7"/>
<circle cx="306.0" cy="139.0" r="1.58" fill-opacity="0.7" stroke-opacity="0.7"/>
<circle cx="309.0" cy="134.5" r="1.58" fill-opacity="0.7" stroke-opacity="0.7"/>
<circle cx="312.0" cy="138.8" r="1.58" fill-opacity="0.45" stroke-opacity="0.45"/>
<circle cx="315.4" cy="137.0" r="1.58" fill-opacity="0.7" stroke-opacity="0.7"/>
<circle cx="319.5" cy="136.2" r="1.58" fill-opacity="0.7" stroke-opacity="0.7"/>
<circle cx="319.5" cy="139.6" r="1.58" fill-opacity="0.45" stroke-opacity="0.45"/>
<circle cx="320.2" cy="142.9" r="1.58" fill-opacity="0.45" stroke-opacity="0.45"/>
<circle cx="320.2" cy="146.7" r="1.58" fill-opacity="0.7" stroke-opacity="0.7"/>
<circle cx="328.1" cy="144.8" r="1.58" fill-opacity="0.45" stroke-opacity="0.45"/>
<circle cx="330.7" cy="146.3" r="1.58" fill-opacity="0.45" stroke-opacity="0.45"/>
<circle cx="334.5" cy="141.8" r="1.58" fill-opacity="0.7" stroke-opacity="0.7"/>
<circle cx="304.5" cy="144.1" r="1.58" fill-opacity="0.45" stroke-opacity="0.45"/>
<circle cx="302.2" cy="145.6" r="1.58" fill-opacity="0.45" stroke-opacity="0.45"/>
<circle cx="309.7" cy="145.6" r="1.58" fill-opacity="0.45" stroke-opacity="0.45"/>
<circle cx="315.7" cy="149.3" r="1.58" fill-opacity="0.7" stroke-opacity="0.7"/>
<circle cx="331.5" cy="148.6" r="1.58" fill-opacity="0.45" stroke-opacity="0.45"/>
<circle cx="331.5" cy="150.8" r="1.58" fill-opacity="0.45" stroke-opacity="0.45"/>
<circle cx="331.1" cy="158.3" r="1.58" fill-opacity="0.7" stroke-opacity="0.7"/>
<circle cx="337.1" cy="158.3" r="1.58" fill-opacity="0.45" stroke-opacity="0.45"/>
<circle cx="344.2" cy="158.3" r="1.58" fill-opacity="0.7" stroke-opacity="0.7"/>
<circle cx="342.4" cy="163.6" r="1.58" fill-opacity="0.7" stroke-opacity="0.7"/>
<circle cx="284.1" cy="140.2" r="1.58" fill-opacity="0.45" stroke-opacity="0.45"/>
<circle cx="287.5" cy="148.5" r="1.58" fill-opacity="0.7" stroke-opacity="0.7"/>
<circle cx="291.2" cy="149.6" r="1.58" fill-opacity="0.7" stroke-opacity="0.7"/>
<circle cx="298.0" cy="143.6" r="1.58" fill-opacity="0.45" stroke-opacity="0.45"/>
<circle cx="301.7" cy="145.1" r="1.58" fill-opacity="0.45" stroke-opacity="0.45"/>
<circle cx="304.7" cy="150.7" r="1.58" fill-opacity="0.7" stroke-opacity="0.7"/>
<circle cx="308.5" cy="145.8" r="1.58" fill-opacity="0.45" stroke-opacity="0.45"/>
<circle cx="311.5" cy="146.6" r="1.58" fill-opacity="0.45" stroke-opacity="0.45"/>
<circle cx="315.2" cy="150.7" r="1.58" fill-opacity="0.7" stroke-opacity="0.7"/>
<circle cx="318.2" cy="145.8" r="1.58" fill-opacity="0.45" stroke-opacity="0.45"/>
<circle cx="309.2" cy="151.5" r="1.58" fill-opacity="0.45" stroke-opacity="0.45"/>
<circle cx="310.7" cy="156.7" r="1.58" fill-opacity="0.7" stroke-opacity="0.7"/>
<circle cx="315.2" cy="153.7" r="1.58" fill-opacity="0.45" stroke-opacity="0.45"/>
<circle cx="317.5" cy="157.1" r="1.58" fill-opacity="0.45" stroke-opacity="0.45"/>
<circle cx="289.7" cy="156.0" r="1.58" fill-opacity="0.7" stroke-opacity="0.7"/>
<circle cx="294.6" cy="157.8" r="1.58" fill-opacity="0.7" stroke-opacity="0.7"/>
<circle cx="307.3" cy="162.7" r="1.58" fill-opacity="0.7" stroke-opacity="0.7"/>
<circle cx="311.5" cy="163.1" r="1.58" fill-opacity="0.7" stroke-opacity="0.7"/>
<circle cx="316.0" cy="163.8" r="1.58" fill-opacity="0.7" stroke-opacity="0.7"/>
<circle cx="294.2" cy="167.6" r="1.58" fill-opacity="0.7" stroke-opacity="0.7"/>
<circle cx="305.1" cy="168.3" r="1.58" fill-opacity="0.7" stroke-opacity="0.7"/>
<circle cx="313.0" cy="168.0" r="1.58" fill-opacity="0.7" stroke-opacity="0.7"/>
<circle cx="298.4" cy="172.5" r="1.58" fill-opacity="0.7" stroke-opacity="0.7"/>
<circle cx="310.7" cy="173.6" r="1.58" fill-opacity="0.7" stroke-opacity="0.7"/>
<circle cx="319.0" cy="174.0" r="1.58" fill-opacity="0.7" stroke-opacity="0.7"/>
<circle cx="324.0" cy="161.1" r="1.58" fill-opacity="0.45" stroke-opacity="0.45"/>
<circle cx="327.0" cy="162.2" r="1.58" fill-opacity="0.45" stroke-opacity="0.45"/>
<circle cx="322.5" cy="166.7" r="1.58" fill-opacity="0.7" stroke-opacity="0.7"/>
<circle cx="331.1" cy="170.5" r="1.58" fill-opacity="0.45" stroke-opacity="0.45"/>
<circle cx="332.2" cy="174.2" r="1.58" fill-opacity="0.7" stroke-opacity="0.7"/>
<circle cx="327.4" cy="174.2" r="1.58" fill-opacity="0.45" stroke-opacity="0.45"/>
<circle cx="326.2" cy="180.2" r="1.58" fill-opacity="0.7" stroke-opacity="0.7"/>
<circle cx="334.5" cy="180.6" r="1.58" fill-opacity="0.45" stroke-opacity="0.45"/>
<circle cx="336.0" cy="182.5" r="1.58" fill-opacity="0.7" stroke-opacity="0.7"/>
<circle cx="333.4" cy="184.0" r="1.58" fill-opacity="0.7" stroke-opacity="0.7"/>
<circle cx="324.0" cy="186.6" r="1.58" fill-opacity="0.45" stroke-opacity="0.45"/>
<circle cx="327.4" cy="186.2" r="1.58" fill-opacity="0.45" stroke-opacity="0.45"/>
<circle cx="328.9" cy="188.4" r="1.58" fill-opacity="0.45" stroke-opacity="0.45"/>
<circle cx="344.2" cy="184.7" r="1.58" fill-opacity="0.7" stroke-opacity="0.7"/>
<circle cx="348.3" cy="186.6" r="1.58" fill-opacity="0.7" stroke-opacity="0.7"/>
<circle cx="351.0" cy="182.8" r="1.58" fill-opacity="0.45" stroke-opacity="0.45"/>
<circle cx="336.0" cy="188.1" r="1.58" fill-opacity="0.45" stroke-opacity="0.45"/>
<circle cx="341.2" cy="188.8" r="1.58" fill-opacity="0.45" stroke-opacity="0.45"/>
<circle cx="333.7" cy="191.1" r="1.58" fill-opacity="0.45" stroke-opacity="0.45"/>
<circle cx="342.7" cy="191.8" r="1.58" fill-opacity="0.45" stroke-opacity="0.45"/>
<circle cx="343.5" cy="194.1" r="1.58" fill-opacity="0.45" stroke-opacity="0.45"/>
<circle cx="322.5" cy="194.5" r="1.58" fill-opacity="0.7" stroke-opacity="0.7"/>
<circle cx="325.5" cy="196.0" r="1.58" fill-opacity="0.7" stroke-opacity="0.7"/>
<circle cx="328.5" cy="196.7" r="1.58" fill-opacity="0.7" stroke-opacity="0.7"/>
<circle cx="333.4" cy="197.5" r="1.58" fill-opacity="0.7" stroke-opacity="0.7"/>
<circle cx="336.7" cy="198.2" r="1.58" fill-opacity="0.7" stroke-opacity="0.7"/>
<circle cx="351.7" cy="198.6" r="1.58" fill-opacity="0.45" stroke-opacity="0.45"/>
<circle cx="316.5" cy="199.0" r="1.58" fill-opacity="0.7" stroke-opacity="0.7"/>
<circle cx="345.7" cy="203.2" r="1.58" fill-opacity="0.7" stroke-opacity="0.7"/>
<circle cx="313.9" cy="199.9" r="1.58" fill-opacity="0.7" stroke-opacity="0.7"/>
<circle cx="318.7" cy="205.9" r="1.58" fill-opacity="0.7" stroke-opacity="0.7"/>
<circle cx="332.6" cy="204.3" r="1.58" fill-opacity="0.45" stroke-opacity="0.45"/>
<circle cx="332.2" cy="206.6" r="1.58" fill-opacity="0.45" stroke-opacity="0.45"/>
<circle cx="339.0" cy="205.8" r="1.58" fill-opacity="0.45" stroke-opacity="0.45"/>
<circle cx="306.7" cy="210.0" r="1.58" fill-opacity="0.7" stroke-opacity="0.7"/>
<circle cx="313.5" cy="210.7" r="1.58" fill-opacity="0.7" stroke-opacity="0.7"/>
<circle cx="318.7" cy="212.6" r="1.58" fill-opacity="0.45" stroke-opacity="0.45"/>
<circle cx="317.6" cy="214.9" r="1.58" fill-opacity="0.7" stroke-opacity="0.7"/>
<circle cx="317.2" cy="217.1" r="1.58" fill-opacity="0.7" stroke-opacity="0.7"/>
<circle cx="330.0" cy="212.2" r="1.58" fill-opacity="0.7" stroke-opacity="0.7"/>
<circle cx="339.0" cy="210.7" r="1.58" fill-opacity="0.7" stroke-opacity="0.7"/>
<circle cx="305.2" cy="217.8" r="1.58" fill-opacity="0.45" stroke-opacity="0.45"/>
<circle cx="307.5" cy="221.2" r="1.58" fill-opacity="0.7" stroke-opacity="0.7"/>
<circle cx="308.2" cy="225.7" r="1.58" fill-opacity="0.7" stroke-opacity="0.7"/>
<circle cx="318.4" cy="227.6" r="1.58" fill-opacity="0.7" stroke-opacity="0.7"/>
<circle cx="333.3" cy="226.5" r="1.58" fill-opacity="0.7" stroke-opacity="0.7"/>
<circle cx="301.1" cy="228.7" r="1.58" fill-opacity="0.7" stroke-opacity="0.7"/>
<circle cx="328.5" cy="234.3" r="1.58" fill-opacity="0.7" stroke-opacity="0.7"/>
<circle cx="338.2" cy="234.3" r="1.58" fill-opacity="0.7" stroke-opacity="0.7"/>
<circle cx="341.0" cy="200.2" r="1.58" fill-opacity="0.45" stroke-opacity="0.45"/>
<circle cx="351.1" cy="202.1" r="1.58" fill-opacity="0.45" stroke-opacity="0.45"/>
<circle cx="351.1" cy="204.3" r="1.58" fill-opacity="0.45" stroke-opacity="0.45"/>
<circle cx="344.0" cy="203.6" r="1.58" fill-opacity="0.7" stroke-opacity="0.7"/>
<circle cx="343.2" cy="212.6" r="1.58" fill-opacity="0.45" stroke-opacity="0.45"/>
<circle cx="349.2" cy="213.0" r="1.58" fill-opacity="0.7" stroke-opacity="0.7"/>
<circle cx="360.5" cy="210.7" r="1.58" fill-opacity="0.7" stroke-opacity="0.7"/>
<circle cx="342.5" cy="217.4" r="1.58" fill-opacity="0.45" stroke-opacity="0.45"/>
<circle cx="358.2" cy="218.9" r="1.58" fill-opacity="0.45" stroke-opacity="0.45"/>
<circle cx="360.1" cy="217.8" r="1.58" fill-opacity="0.45" stroke-opacity="0.45"/>
<circle cx="347.0" cy="222.3" r="1.58" fill-opacity="0.45" stroke-opacity="0.45"/>
<circle cx="350.7" cy="223.5" r="1.58" fill-opacity="0.7" stroke-opacity="0.7"/>
<circle cx="347.0" cy="225.3" r="1.58" fill-opacity="0.45" stroke-opacity="0.45"/>
<circle cx="356.7" cy="225.3" r="1.58" fill-opacity="0.45" stroke-opacity="0.45"/>
<circle cx="359.0" cy="225.3" r="1.58" fill-opacity="0.45" stroke-opacity="0.45"/>
<circle cx="364.2" cy="225.7" r="1.58" fill-opacity="0.45" stroke-opacity="0.45"/>
<circle cx="365.7" cy="227.6" r="1.58" fill-opacity="0.45" stroke-opacity="0.45"/>
<circle cx="353.0" cy="228.0" r="1.58" fill-opacity="0.7" stroke-opacity="0.7"/>
<circle cx="348.5" cy="229.1" r="1.58" fill-opacity="0.45" stroke-opacity="0.45"/>
<circle cx="362.3" cy="231.3" r="1.58" fill-opacity="0.7" stroke-opacity="0.7"/>
<circle cx="347.0" cy="232.1" r="1.58" fill-opacity="0.45" stroke-opacity="0.45"/>
<circle cx="352.2" cy="231.3" r="1.58" fill-opacity="0.45" stroke-opacity="0.45"/>
<circle cx="354.1" cy="232.8" r="1.58" fill-opacity="0.45" stroke-opacity="0.45"/>
<circle cx="351.0" cy="201.6" r="1.58" fill-opacity="0.45" stroke-opacity="0.45"/>
<circle cx="275.3" cy="169.5" r="1.58" fill-opacity="0.7" stroke-opacity="0.7"/>
<circle cx="271.1" cy="178.2" r="1.58" fill-opacity="0.7" stroke-opacity="0.7"/>
<circle cx="287.9" cy="183.1" r="1.58" fill-opacity="0.7" stroke-opacity="0.7"/>
<circle cx="251.4" cy="191.7" r="1.58" fill-opacity="0.7" stroke-opacity="0.7"/>
<circle cx="291.7" cy="194.3" r="1.58" fill-opacity="0.7" stroke-opacity="0.7"/>
<circle cx="295.9" cy="213.5" r="1.58" fill-opacity="0.7" stroke-opacity="0.7"/>
<circle cx="286.3" cy="220.8" r="1.58" fill-opacity="0.7" stroke-opacity="0.7"/>
<circle cx="284.2" cy="227.0" r="1.58" fill-opacity="0.7" stroke-opacity="0.7"/>
<circle cx="286.5" cy="226.8" r="1.58" fill-opacity="0.45" stroke-opacity="0.45"/>
<circle cx="276.5" cy="233.7" r="1.58" fill-opacity="0.7" stroke-opacity="0.7"/>
<circle cx="298.2" cy="246.8" r="1.58" fill-opacity="0.7" stroke-opacity="0.7"/>
<circle cx="292.9" cy="253.2" r="1.58" fill-opacity="0.7" stroke-opacity="0.7"/>
<circle cx="295.4" cy="255.3" r="1.58" fill-opacity="0.7" stroke-opacity="0.7"/>
<circle cx="299.2" cy="260.9" r="1.58" fill-opacity="0.45" stroke-opacity="0.45"/>
<circle cx="300.8" cy="237.5" r="1.58" fill-opacity="0.7" stroke-opacity="0.7"/>
<circle cx="311.5" cy="240.1" r="1.58" fill-opacity="0.7" stroke-opacity="0.7"/>
<circle cx="317.2" cy="239.2" r="1.58" fill-opacity="0.7" stroke-opacity="0.7"/>
<circle cx="316.2" cy="243.6" r="1.58" fill-opacity="0.7" stroke-opacity="0.7"/>
<circle cx="311.5" cy="244.8" r="1.58" fill-opacity="0.45" stroke-opacity="0.45"/>
<circle cx="307.3" cy="246.9" r="1.58" fill-opacity="0.45" stroke-opacity="0.45"/>
<circle cx="318.6" cy="246.7" r="1.58" fill-opacity="0.7" stroke-opacity="0.7"/>
<circle cx="321.8" cy="247.2" r="1.58" fill-opacity="0.45" stroke-opacity="0.45"/>
<circle cx="327.5" cy="253.9" r="1.58" fill-opacity="0.7" stroke-opacity="0.7"/>
<circle cx="333.5" cy="253.8" r="1.58" fill-opacity="0.45" stroke-opacity="0.45"/>
<circle cx="334.0" cy="256.3" r="1.58" fill-opacity="0.45" stroke-opacity="0.45"/>
<circle cx="336.3" cy="258.6" r="1.58" fill-opacity="0.45" stroke-opacity="0.45"/>
<circle cx="338.7" cy="262.3" r="1.58" fill-opacity="0.7" stroke-opacity="0.7"/>
<circle cx="311.1" cy="254.3" r="1.58" fill-opacity="0.7" stroke-opacity="0.7"/>
<circle cx="307.3" cy="257.2" r="1.58" fill-opacity="0.7" stroke-opacity="0.7"/>
<circle cx="317.2" cy="258.6" r="1.58" fill-opacity="0.45" stroke-opacity="0.45"/>
<circle cx="311.1" cy="261.0" r="1.58" fill-opacity="0.45" stroke-opacity="0.45"/>
<circle cx="311.1" cy="264.2" r="1.58" fill-opacity="0.7" stroke-opacity="0.7"/>
<circle cx="353.9" cy="236.6" r="1.58" fill-opacity="0.7" stroke-opacity="0.7"/>
<circle cx="360.9" cy="235.2" r="1.58" fill-opacity="0.45" stroke-opacity="0.45"/>
<circle cx="363.2" cy="245.0" r="1.58" fill-opacity="0.45" stroke-opacity="0.45"/>
<circle cx="366.5" cy="246.5" r="1.58" fill-opacity="0.45" stroke-opacity="0.45"/>
<circle cx="352.0" cy="247.8" r="1.58" fill-opacity="0.7" stroke-opacity="0.7"/>
<circle cx="358.1" cy="246.9" r="1.58" fill-opacity="0.7" stroke-opacity="0.7"/>
<circle cx="360.0" cy="249.7" r="1.58" fill-opacity="0.7" stroke-opacity="0.7"/>
<circle cx="360.9" cy="251.6" r="1.58" fill-opacity="0.45" stroke-opacity="0.45"/>
<circle cx="362.8" cy="256.7" r="1.58" fill-opacity="0.7" stroke-opacity="0.7"/>
<circle cx="366.5" cy="256.2" r="1.58" fill-opacity="0.7" stroke-opacity="0.7"/>
<circle cx="362.8" cy="257.7" r="1.58" fill-opacity="0.45" stroke-opacity="0.45"/>
<circle cx="362.8" cy="260.9" r="1.58" fill-opacity="0.7" stroke-opacity="0.7"/>
<circle cx="355.3" cy="263.2" r="1.58" fill-opacity="0.7" stroke-opacity="0.7"/>
<circle cx="359.5" cy="264.2" r="1.58" fill-opacity="0.7" stroke-opacity="0.7"/>
<circle cx="365.6" cy="265.2" r="1.58" fill-opacity="0.45" stroke-opacity="0.45"/>
<circle cx="362.3" cy="266.6" r="1.58" fill-opacity="0.45" stroke-opacity="0.45"/>
<circle cx="367.5" cy="266.5" r="1.58" fill-opacity="0.7" stroke-opacity="0.7"/>
<circle cx="357.6" cy="267.5" r="1.58" fill-opacity="0.45" stroke-opacity="0.45"/>
<circle cx="358.1" cy="269.9" r="1.58" fill-opacity="0.45" stroke-opacity="0.45"/>
<circle cx="365.1" cy="268.9" r="1.58" fill-opacity="0.45" stroke-opacity="0.45"/>
<circle cx="365.6" cy="270.8" r="1.58" fill-opacity="0.45" stroke-opacity="0.45"/>
<circle cx="367.9" cy="269.9" r="1.58" fill-opacity="0.45" stroke-opacity="0.45"/>
<circle cx="363.7" cy="274.5" r="1.58" fill-opacity="0.7" stroke-opacity="0.7"/>
<circle cx="367.9" cy="276.4" r="1.58" fill-opacity="0.45" stroke-opacity="0.45"/>
<circle cx="366.0" cy="278.7" r="1.58" fill-opacity="0.7" stroke-opacity="0.7"/>
<circle cx="346.4" cy="272.1" r="1.58" fill-opacity="0.7" stroke-opacity="0.7"/>
<circle cx="364.4" cy="270.4" r="1.58" fill-opacity="0.45" stroke-opacity="0.45"/>
<circle cx="368.1" cy="271.8" r="1.58" fill-opacity="0.45" stroke-opacity="0.45"/>
<circle cx="368.1" cy="276.5" r="1.58" fill-opacity="0.45" stroke-opacity="0.45"/>
<circle cx="363.0" cy="279.7" r="1.58" fill-opacity="0.45" stroke-opacity="0.45"/>
<circle cx="367.2" cy="281.6" r="1.58" fill-opacity="0.45" stroke-opacity="0.45"/>
<circle cx="362.0" cy="282.5" r="1.58" fill-opacity="0.45" stroke-opacity="0.45"/>
<circle cx="359.7" cy="285.8" r="1.58" fill-opacity="0.45" stroke-opacity="0.45"/>
<circle cx="360.6" cy="287.2" r="1.58" fill-opacity="0.45" stroke-opacity="0.45"/>
<circle cx="365.8" cy="287.7" r="1.58" fill-opacity="0.45" stroke-opacity="0.45"/>
<circle cx="369.0" cy="287.2" r="1.58" fill-opacity="0.45" stroke-opacity="0.45"/>
<circle cx="371.9" cy="289.1" r="1.58" fill-opacity="0.45" stroke-opacity="0.45"/>
<circle cx="367.2" cy="291.9" r="1.58" fill-opacity="0.45" stroke-opacity="0.45"/>
<circle cx="369.0" cy="294.2" r="1.58" fill-opacity="0.45" stroke-opacity="0.45"/>
<circle cx="364.8" cy="297.5" r="1.58" fill-opacity="0.45" stroke-opacity="0.45"/>
<circle cx="371.4" cy="299.9" r="1.58" fill-opacity="0.45" stroke-opacity="0.45"/>
<circle cx="371.4" cy="302.2" r="1.58" fill-opacity="0.45" stroke-opacity="0.45"/>
<circle cx="370.0" cy="305.5" r="1.58" fill-opacity="0.45" stroke-opacity="0.45"/>
<circle cx="370.9" cy="307.4" r="1.58" fill-opacity="0.45" stroke-opacity="0.45"/>
<circle cx="378.9" cy="305.9" r="1.58" fill-opacity="0.45" stroke-opacity="0.45"/>
<circle cx="377.5" cy="307.8" r="1.58" fill-opacity="0.45" stroke-opacity="0.45"/>
<circle cx="377.3" cy="309.4" r="1.58" fill-opacity="0.45" stroke-opacity="0.45"/>
<circle cx="373.6" cy="314.6" r="1.58" fill-opacity="0.45" stroke-opacity="0.45"/>
<circle cx="373.6" cy="316.9" r="1.58" fill-opacity="0.45" stroke-opacity="0.45"/>
<circle cx="383.4" cy="318.1" r="1.58" fill-opacity="0.45" stroke-opacity="0.45"/>
<circle cx="373.1" cy="322.9" r="1.58" fill-opacity="0.7" stroke-opacity="0.7"/>
<circle cx="380.1" cy="326.3" r="1.58" fill-opacity="0.45" stroke-opacity="0.45"/>
<circle cx="382.5" cy="329.1" r="1.58" fill-opacity="0.45" stroke-opacity="0.45"/>
<circle cx="375.0" cy="331.0" r="1.58" fill-opacity="0.45" stroke-opacity="0.45"/>
<circle cx="380.6" cy="333.3" r="1.58" fill-opacity="0.45" stroke-opacity="0.45"/>
<circle cx="381.1" cy="335.6" r="1.58" fill-opacity="0.45" stroke-opacity="0.45"/>
<circle cx="383.9" cy="337.5" r="1.58" fill-opacity="0.45" stroke-opacity="0.45"/>
<circle cx="383.9" cy="340.8" r="1.58" fill-opacity="0.45" stroke-opacity="0.45"/>
<circle cx="384.8" cy="342.7" r="1.58" fill-opacity="0.45" stroke-opacity="0.45"/>
<circle cx="383.9" cy="345.5" r="1.58" fill-opacity="0.45" stroke-opacity="0.45"/>
<circle cx="386.7" cy="345.9" r="1.58" fill-opacity="0.45" stroke-opacity="0.45"/>
<circle cx="388.0" cy="352.7" r="1.58" fill-opacity="0.7" stroke-opacity="0.7"/>
<circle cx="383.4" cy="359.0" r="1.58" fill-opacity="0.45" stroke-opacity="0.45"/>
<circle cx="390.0" cy="362.6" r="1.58" fill-opacity="0.45" stroke-opacity="0.45"/>
<circle cx="389.3" cy="364.3" r="1.58" fill-opacity="0.45" stroke-opacity="0.45"/>
<circle cx="394.5" cy="382.3" r="1.58" fill-opacity="0.45" stroke-opacity="0.45"/>
<circle cx="391.9" cy="386.6" r="1.58" fill-opacity="0.45" stroke-opacity="0.45"/>
<circle cx="394.5" cy="390.1" r="1.58" fill-opacity="0.45" stroke-opacity="0.45"/>
<circle cx="395.8" cy="393.4" r="1.58" fill-opacity="0.45" stroke-opacity="0.45"/>
<circle cx="396.2" cy="395.4" r="1.58" fill-opacity="0.45" stroke-opacity="0.45"/>
<circle cx="396.2" cy="398.0" r="1.58" fill-opacity="0.7" stroke-opacity="0.7"/>
<circle cx="260.8" cy="162.0" r="1.58" fill-opacity="0.7" stroke-opacity="0.7"/>
<circle cx="278.2" cy="162.5" r="1.58" fill-opacity="0.7" stroke-opacity="0.7"/>
<circle cx="273.7" cy="167.1" r="1.58" fill-opacity="0.7" stroke-opacity="0.7"/>
<circle cx="287.8" cy="132.1" r="1.58" fill-opacity="0.45" stroke-opacity="0.45"/>
<circle cx="273.2" cy="106.1" r="1.58" fill-opacity="0.7" stroke-opacity="0.7"/>
<circle cx="269.1" cy="110.2" r="1.58" fill-opacity="0.7" stroke-opacity="0.7"/>
<circle cx="302.2" cy="195.0" r="1.58" fill-opacity="0.7" stroke-opacity="0.7"/>
</g>
<g id="legend">
<circle cx="450.8" cy="9.7" r="1.5" fill="#008bd6" fill-opacity="0.7" stroke="#008bd6" stroke-opacity="0.7" stroke-width="1"/>
<circle cx="450.8" cy="24.2" r="2.1" fill="#000"/>
<text x="469.2" y="11.8" font-size="9.93" fill="#000">Actual</text>
<text x="468.6" y="26.5" font-size="9.93" fill="#000">Predicted</text>
</g>

</svg>
</div>
</body></html>
